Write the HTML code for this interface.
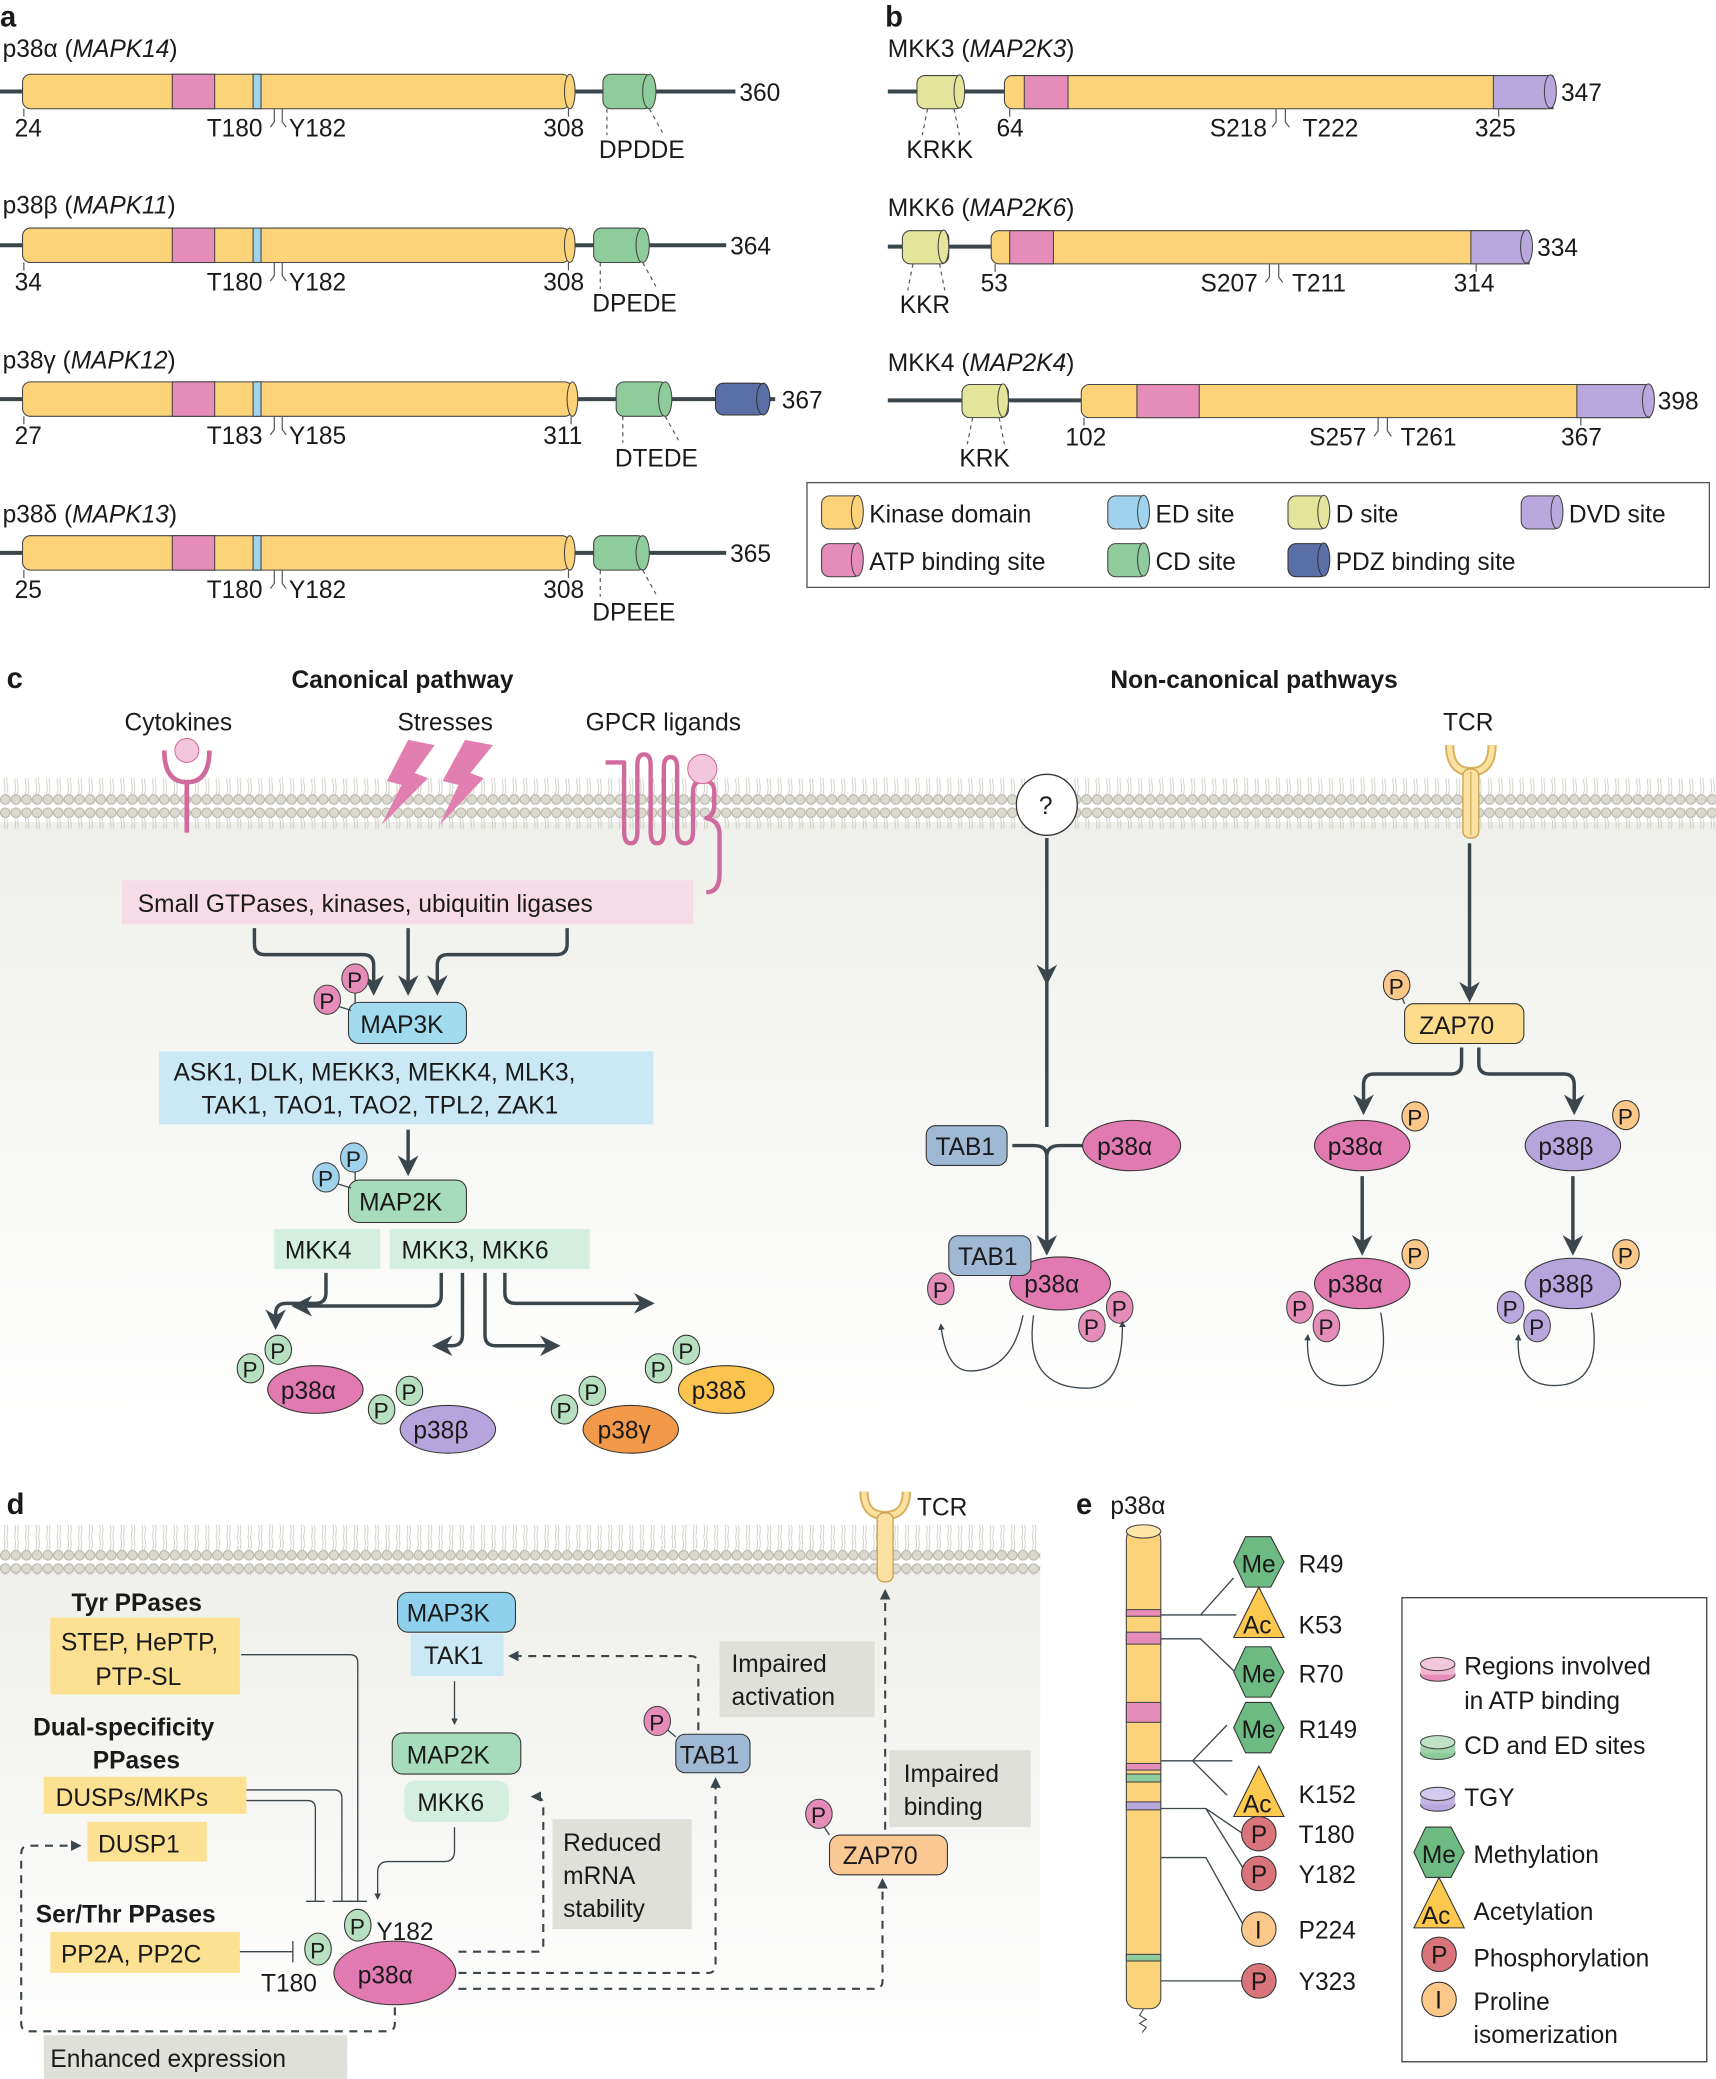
<!DOCTYPE html>
<html><head><meta charset="utf-8"><style>
html,body{margin:0;padding:0;background:#fff}
svg{display:block}
text{font-family:"Liberation Sans",sans-serif;font-size:18.5px;fill:#1a1a1a}
.b{font-weight:bold}
.L{font-size:22px;font-weight:bold}
.s{font-size:17px}
.ln{stroke:#3b464c;stroke-width:3;fill:none}
.th{stroke:#3b464c;stroke-width:1;fill:none}
.ar{stroke:#3b464c;stroke-width:2.6;fill:none}
.ds{stroke:#3b464c;stroke-width:1.6;fill:none;stroke-dasharray:6 5}
.k{fill:#fdd37a;stroke:#444;stroke-width:0.8}
.pk{fill:#e68cb8;stroke:#444;stroke-width:0.8}
.bl{fill:#9fd2ec;stroke:#444;stroke-width:0.8}
.gr{fill:#8fcc9c;stroke:#444;stroke-width:0.8}
.yg{fill:#e3e69a;stroke:#444;stroke-width:0.8}
.pu{fill:#b9a8de;stroke:#444;stroke-width:0.8}
.nv{fill:#5a6fa5;stroke:#333;stroke-width:0.8}
.tk{stroke:#555;stroke-width:0.9;fill:none}
.tkd{stroke:#555;stroke-width:0.9;fill:none;stroke-dasharray:3 3}
</style></head><body>
<svg width="1716" height="2079" viewBox="0 0 1295 1568" preserveAspectRatio="none" xmlns="http://www.w3.org/2000/svg">
<defs>
<marker id="ah" viewBox="0 0 10 10" refX="8" refY="5" markerWidth="5" markerHeight="5" orient="auto"><path d="M0,0L10,5L0,10z" fill="#3b464c"/></marker>
<marker id="ah2" viewBox="0 0 10 10" refX="8" refY="5" markerWidth="6" markerHeight="6" orient="auto"><path d="M0,0L10,5L0,10L3,5z" fill="#3b464c"/></marker>
<pattern id="mem" x="0" y="0" width="8" height="38" patternUnits="userSpaceOnUse">
<circle cx="4" cy="5" r="3.6" fill="#dcdad0" stroke="#b8b6aa" stroke-width="0.8"/>
<circle cx="4" cy="33" r="3.6" fill="#dcdad0" stroke="#b8b6aa" stroke-width="0.8"/>
<path d="M3,9 q1.5,5 0,10 M5,9 q1.5,5 0,10 M3,19 q1.5,5 0,10 M5,19 q1.5,5 0,10" stroke="#c9c7bb" stroke-width="0.6" fill="none"/>
</pattern>
<linearGradient id="bgc" x1="0" y1="0" x2="0" y2="1"><stop offset="0" stop-color="#efefeb"/><stop offset="1" stop-color="#ffffff"/></linearGradient>
</defs>

<!-- ============ PANEL A ============ -->
<text x="0" y="20" class="L">a</text>
<text x="2" y="43">p38α (<tspan font-style="italic">MAPK14</tspan>)</text>
<line x1="0" y1="69" x2="555" y2="69" class="ln"/>
<rect x="17" y="56" width="413" height="26" rx="6" class="k"/>
<rect x="130" y="56" width="32" height="26" class="pk"/>
<rect x="191" y="56" width="6" height="26" class="bl"/>
<ellipse cx="430" cy="69" rx="4" ry="13" class="k"/>
<rect x="455" y="56" width="37" height="26" rx="6" class="gr"/><ellipse cx="490" cy="69" rx="5" ry="13" class="gr"/>
<text x="558" y="76">360</text>
<line x1="18" y1="82" x2="18" y2="88" class="tk"/><text x="11" y="103">24</text>
<path d="M207,82 v10 l-3,4 M213,82 v10 l3,4" class="tk"/>
<text x="156" y="103">T180</text><text x="218" y="103">Y182</text>
<line x1="429" y1="82" x2="429" y2="88" class="tk"/><text x="410" y="103">308</text>
<path d="M458,82 v20 M490,82 l10,18" class="tkd"/><text x="452" y="119">DPDDE</text>

<text x="2" y="161">p38β (<tspan font-style="italic">MAPK11</tspan>)</text>
<line x1="0" y1="185" x2="548" y2="185" class="ln"/>
<rect x="17" y="172" width="413" height="26" rx="6" class="k"/>
<rect x="130" y="172" width="32" height="26" class="pk"/>
<rect x="191" y="172" width="6" height="26" class="bl"/>
<ellipse cx="430" cy="185" rx="4" ry="13" class="k"/>
<rect x="448" y="172" width="39" height="26" rx="6" class="gr"/><ellipse cx="485" cy="185" rx="5" ry="13" class="gr"/>
<text x="551" y="192">364</text>
<line x1="18" y1="198" x2="18" y2="204" class="tk"/><text x="11" y="219">34</text>
<path d="M207,198 v10 l-3,4 M213,198 v10 l3,4" class="tk"/>
<text x="156" y="219">T180</text><text x="218" y="219">Y182</text>
<line x1="429" y1="198" x2="429" y2="204" class="tk"/><text x="410" y="219">308</text>
<path d="M453,198 v20 M485,198 l10,18" class="tkd"/><text x="447" y="235">DPEDE</text>

<text x="2" y="278">p38γ (<tspan font-style="italic">MAPK12</tspan>)</text>
<line x1="0" y1="301" x2="585" y2="301" class="ln"/>
<rect x="17" y="288" width="415" height="26" rx="6" class="k"/>
<rect x="130" y="288" width="32" height="26" class="pk"/>
<rect x="191" y="288" width="6" height="26" class="bl"/>
<ellipse cx="432" cy="301" rx="4" ry="13" class="k"/>
<rect x="465" y="288" width="39" height="26" rx="6" class="gr"/><ellipse cx="502" cy="301" rx="5" ry="13" class="gr"/>
<rect x="540" y="289" width="38" height="24" rx="6" class="nv"/><ellipse cx="576" cy="301" rx="5" ry="12" class="nv"/>
<text x="590" y="308">367</text>
<line x1="18" y1="314" x2="18" y2="320" class="tk"/><text x="11" y="335">27</text>
<path d="M207,314 v10 l-3,4 M213,314 v10 l3,4" class="tk"/>
<text x="156" y="335">T183</text><text x="218" y="335">Y185</text>
<line x1="431" y1="314" x2="431" y2="320" class="tk"/><text x="410" y="335">311</text>
<path d="M470,314 v20 M502,314 l10,18" class="tkd"/><text x="464" y="352">DTEDE</text>

<text x="2" y="394">p38δ (<tspan font-style="italic">MAPK13</tspan>)</text>
<line x1="0" y1="417" x2="548" y2="417" class="ln"/>
<rect x="17" y="404" width="413" height="26" rx="6" class="k"/>
<rect x="130" y="404" width="32" height="26" class="pk"/>
<rect x="191" y="404" width="6" height="26" class="bl"/>
<ellipse cx="430" cy="417" rx="4" ry="13" class="k"/>
<rect x="448" y="404" width="39" height="26" rx="6" class="gr"/><ellipse cx="485" cy="417" rx="5" ry="13" class="gr"/>
<text x="551" y="424">365</text>
<line x1="18" y1="430" x2="18" y2="436" class="tk"/><text x="11" y="451">25</text>
<path d="M207,430 v10 l-3,4 M213,430 v10 l3,4" class="tk"/>
<text x="156" y="451">T180</text><text x="218" y="451">Y182</text>
<line x1="429" y1="430" x2="429" y2="436" class="tk"/><text x="410" y="451">308</text>
<path d="M453,430 v20 M485,430 l10,18" class="tkd"/><text x="447" y="468">DPEEE</text>

<!-- ============ PANEL B ============ -->
<text x="668" y="20" class="L">b</text>
<text x="670" y="43">MKK3 (<tspan font-style="italic">MAP2K3</tspan>)</text>
<line x1="670" y1="69" x2="760" y2="69" class="ln"/>
<rect x="692" y="57" width="35" height="25" rx="6" class="yg"/><ellipse cx="724" cy="69" rx="4" ry="12.5" class="yg"/>
<rect x="758" y="57" width="414" height="25" rx="6" class="k"/>
<rect x="773" y="57" width="33" height="25" class="pk"/>
<rect x="1127" y="57" width="45" height="25" class="pu"/><ellipse cx="1170" cy="69" rx="4.5" ry="12.5" class="pu"/>
<text x="1178" y="76">347</text>
<path d="M700,82 l-4,20 M720,82 l4,20" class="tkd"/><text x="684" y="119">KRKK</text>
<line x1="762" y1="82" x2="762" y2="88" class="tk"/><text x="752" y="103">64</text>
<path d="M963,82 v10 l-3,4 M970,82 v10 l3,4" class="tk"/><text x="913" y="103">S218</text><text x="983" y="103">T222</text>
<line x1="1131" y1="82" x2="1131" y2="88" class="tk"/><text x="1113" y="103">325</text>

<text x="670" y="163">MKK6 (<tspan font-style="italic">MAP2K6</tspan>)</text>
<line x1="670" y1="186" x2="750" y2="186" class="ln"/>
<rect x="681" y="174" width="35" height="25" rx="6" class="yg"/><ellipse cx="712" cy="186" rx="4" ry="12.5" class="yg"/>
<rect x="748" y="174" width="406" height="25" rx="6" class="k"/>
<rect x="762" y="174" width="33" height="25" class="pk"/>
<rect x="1110" y="174" width="44" height="25" class="pu"/><ellipse cx="1152" cy="186" rx="4.5" ry="12.5" class="pu"/>
<text x="1160" y="193">334</text>
<path d="M689,199 l-4,20 M709,199 l4,20" class="tkd"/><text x="679" y="236">KKR</text>
<line x1="751" y1="199" x2="751" y2="205" class="tk"/><text x="740" y="220">53</text>
<path d="M958,199 v10 l-3,4 M965,199 v10 l3,4" class="tk"/><text x="906" y="220">S207</text><text x="975" y="220">T211</text>
<line x1="1114" y1="199" x2="1114" y2="205" class="tk"/><text x="1097" y="220">314</text>

<text x="670" y="280">MKK4 (<tspan font-style="italic">MAP2K4</tspan>)</text>
<line x1="670" y1="302" x2="818" y2="302" class="ln"/>
<rect x="726" y="290" width="35" height="25" rx="6" class="yg"/><ellipse cx="757" cy="302" rx="4" ry="12.5" class="yg"/>
<rect x="816" y="290" width="430" height="25" rx="6" class="k"/>
<rect x="858" y="290" width="47" height="25" class="pk"/>
<rect x="1190" y="290" width="55" height="25" class="pu"/><ellipse cx="1244" cy="302" rx="4.5" ry="12.5" class="pu"/>
<text x="1251" y="309">398</text>
<path d="M734,315 l-4,20 M754,315 l4,20" class="tkd"/><text x="724" y="352">KRK</text>
<line x1="818" y1="315" x2="818" y2="321" class="tk"/><text x="804" y="336">102</text>
<path d="M1040,315 v10 l-3,4 M1047,315 v10 l3,4" class="tk"/><text x="988" y="336">S257</text><text x="1057" y="336">T261</text>
<line x1="1193" y1="315" x2="1193" y2="321" class="tk"/><text x="1178" y="336">367</text>

<rect x="609" y="364" width="681" height="79" fill="#fff" stroke="#555" stroke-width="1"/>
<rect x="620" y="374" width="30" height="25" rx="6" class="k"/><ellipse cx="647" cy="386" rx="4.5" ry="12.5" class="k"/><text x="656" y="394">Kinase domain</text>
<rect x="836" y="374" width="30" height="25" rx="6" class="bl"/><ellipse cx="863" cy="386" rx="4.5" ry="12.5" class="bl"/><text x="872" y="394">ED site</text>
<rect x="972" y="374" width="30" height="25" rx="6" class="yg"/><ellipse cx="999" cy="386" rx="4.5" ry="12.5" class="yg"/><text x="1008" y="394">D site</text>
<rect x="1148" y="374" width="30" height="25" rx="6" class="pu"/><ellipse cx="1175" cy="386" rx="4.5" ry="12.5" class="pu"/><text x="1184" y="394">DVD site</text>
<rect x="620" y="410" width="30" height="25" rx="6" class="pk"/><ellipse cx="647" cy="422" rx="4.5" ry="12.5" class="pk"/><text x="656" y="430">ATP binding site</text>
<rect x="836" y="410" width="30" height="25" rx="6" class="gr"/><ellipse cx="863" cy="422" rx="4.5" ry="12.5" class="gr"/><text x="872" y="430">CD site</text>
<rect x="972" y="410" width="30" height="25" rx="6" class="nv"/><ellipse cx="999" cy="422" rx="4.5" ry="12.5" class="nv"/><text x="1008" y="430">PDZ binding site</text>

<!-- ============ PANEL C ============ -->
<rect x="0" y="620" width="1295" height="480" fill="url(#bgc)"/>
<rect x="0" y="587" width="1295" height="38" fill="url(#mem)"/>
<text x="5" y="519" class="L">c</text>
<text x="220" y="519" class="b" font-size="20">Canonical pathway</text>
<text x="838" y="519" class="b" font-size="20">Non-canonical pathways</text>
<text x="94" y="551">Cytokines</text>
<text x="300" y="551">Stresses</text>
<text x="442" y="551">GPCR ligands</text>
<path d="M124,566 q0,24 17,24 q17,0 17,-24" stroke="#d16a9c" stroke-width="3.5" fill="none"/>
<line x1="141" y1="590" x2="141" y2="628" stroke="#d16a9c" stroke-width="3.5"/>
<circle cx="141" cy="566" r="9" fill="#f3c6dc" stroke="#d16a9c" stroke-width="0.8"/>
<path d="M308,558 L328,562 L313,583 L323,587 L288,622 L303,592 L292,589 Z" fill="#e17fb0"/>
<path d="M351,558 L372,562 L355,583 L365,587 L332,622 L346,592 L334,589 Z" fill="#e17fb0"/>
<path d="M457,575 h14 v52 q0,9 5,9 q5,0 5,-9 v-50 q0,-8 5,-8 q5,0 5,8 v50 q0,9 5,9 q5,0 5,-9 v-48 q0,-8 5,-8 q5,0 5,8 v48 q0,9 6,9 q6,0 6,-9 v-30 q0,-8 8,-8 q8,0 8,8 v10 q0,8 -6,10 q10,2 10,12 v30 q0,14 -10,14" stroke="#d16a9c" stroke-width="3.3" fill="none" stroke-linejoin="round"/>
<circle cx="530" cy="580" r="11" fill="#f3c6dc" stroke="#d16a9c" stroke-width="0.8"/>

<rect x="92" y="664" width="431" height="33" fill="#f7dbe6"/>
<text x="104" y="688">Small GTPases, kinases, ubiquitin ligases</text>
<path d="M192,700 v12 q0,8 8,8 h74 q8,0 8,8 v20" class="ar" marker-end="url(#ah2)"/>
<path d="M308,700 v48" class="ar" marker-end="url(#ah2)"/>
<path d="M428,700 v12 q0,8 -8,8 h-82 q-8,0 -8,8 v20" class="ar" marker-end="url(#ah2)"/>
<rect x="263" y="756" width="89" height="31" rx="8" fill="#a2daee" stroke="#333" stroke-width="0.8"/>
<text x="272" y="779">MAP3K</text>
<line x1="252" y1="758" x2="265" y2="762" class="th"/><line x1="268" y1="748" x2="268" y2="757" class="th"/>
<ellipse cx="247" cy="754" rx="10" ry="11" class="pk"/><text x="241" y="761" class="s">P</text>
<ellipse cx="268" cy="738" rx="10" ry="11" class="pk"/><text x="262" y="745" class="s">P</text>
<rect x="120" y="793" width="373" height="55" fill="#cbe9f5"/>
<text x="131" y="815">ASK1, DLK, MEKK3, MEKK4, MLK3,</text>
<text x="152" y="840">TAK1, TAO1, TAO2, TPL2, ZAK1</text>
<path d="M308,852 v32" class="ar" marker-end="url(#ah2)"/>
<rect x="263" y="890" width="89" height="32" rx="8" fill="#a6dcbc" stroke="#333" stroke-width="0.8"/>
<text x="271" y="913">MAP2K</text>
<line x1="252" y1="892" x2="265" y2="896" class="th"/><line x1="268" y1="882" x2="268" y2="891" class="th"/>
<ellipse cx="246" cy="888" rx="10" ry="11" class="bl"/><text x="240" y="895" class="s">P</text>
<ellipse cx="267" cy="873" rx="10" ry="11" class="bl"/><text x="261" y="880" class="s">P</text>
<rect x="207" y="927" width="80" height="30" fill="#d4efe0"/><text x="215" y="949">MKK4</text>
<rect x="294" y="927" width="151" height="30" fill="#d4efe0"/><text x="303" y="949">MKK3, MKK6</text>
<path d="M246,960 v15 q0,8 -8,8 h-22 q-8,0 -8,8 v9" class="ar" marker-end="url(#ah2)"/>
<path d="M333,960 v17 q0,8 -8,8 h-102" class="ar" marker-end="url(#ah2)"/>
<path d="M349,960 v47 q0,8 -8,8 h-12" class="ar" marker-end="url(#ah2)"/>
<path d="M366,960 v47 q0,8 8,8 h46" class="ar" marker-end="url(#ah2)"/>
<path d="M381,960 v15 q0,8 8,8 h102" class="ar" marker-end="url(#ah2)"/>
<g>
<ellipse cx="238" cy="1048" rx="36" ry="18" fill="#e07ab0" stroke="#333" stroke-width="0.8"/><text x="212" y="1055">p38α</text>
<ellipse cx="189" cy="1032" rx="10" ry="11" fill="#b7e0c0" stroke="#333" stroke-width="0.8"/><text x="183" y="1039" class="s">P</text>
<ellipse cx="210" cy="1018" rx="10" ry="11" fill="#b7e0c0" stroke="#333" stroke-width="0.8"/><text x="204" y="1025" class="s">P</text>
<ellipse cx="338" cy="1078" rx="36" ry="18" fill="#b6a4dc" stroke="#333" stroke-width="0.8"/><text x="312" y="1085">p38β</text>
<ellipse cx="288" cy="1063" rx="10" ry="11" fill="#b7e0c0" stroke="#333" stroke-width="0.8"/><text x="282" y="1070" class="s">P</text>
<ellipse cx="309" cy="1049" rx="10" ry="11" fill="#b7e0c0" stroke="#333" stroke-width="0.8"/><text x="303" y="1056" class="s">P</text>
<ellipse cx="476" cy="1078" rx="36" ry="18" fill="#f29a4a" stroke="#333" stroke-width="0.8"/><text x="451" y="1085">p38γ</text>
<ellipse cx="426" cy="1063" rx="10" ry="11" fill="#b7e0c0" stroke="#333" stroke-width="0.8"/><text x="420" y="1070" class="s">P</text>
<ellipse cx="447" cy="1049" rx="10" ry="11" fill="#b7e0c0" stroke="#333" stroke-width="0.8"/><text x="441" y="1056" class="s">P</text>
<ellipse cx="548" cy="1048" rx="36" ry="18" fill="#fbc44f" stroke="#333" stroke-width="0.8"/><text x="522" y="1055">p38δ</text>
<ellipse cx="497" cy="1032" rx="10" ry="11" fill="#b7e0c0" stroke="#333" stroke-width="0.8"/><text x="491" y="1039" class="s">P</text>
<ellipse cx="518" cy="1018" rx="10" ry="11" fill="#b7e0c0" stroke="#333" stroke-width="0.8"/><text x="512" y="1025" class="s">P</text>
</g>

<circle cx="790" cy="607" r="23" fill="#fff" stroke="#333" stroke-width="1"/><text x="784" y="614">?</text>
<path d="M790,632 v108" class="ar" marker-end="url(#ah2)"/>
<path d="M790,740 v110" class="ar"/>
<path d="M764,864 h16 q10,0 10,8 q0,-8 10,-8 h18" class="ar"/>
<path d="M790,872 v72" class="ar" marker-end="url(#ah2)"/>
<rect x="699" y="849" width="61" height="30" rx="7" fill="#9fb8d4" stroke="#333" stroke-width="0.8"/><text x="706" y="871">TAB1</text>
<ellipse cx="854" cy="864" rx="37" ry="19" fill="#e07ab0" stroke="#333" stroke-width="0.8"/><text x="828" y="871">p38α</text>
<ellipse cx="800" cy="968" rx="38" ry="20" fill="#e07ab0" stroke="#333" stroke-width="0.8"/><text x="773" y="975">p38α</text>
<rect x="716" y="932" width="62" height="30" rx="7" fill="#9fb8d4" stroke="#333" stroke-width="0.8"/><text x="723" y="954">TAB1</text>
<line x1="716" y1="962" x2="712" y2="966" class="th"/>
<ellipse cx="710" cy="972" rx="10" ry="12" class="pk"/><text x="704" y="979" class="s">P</text>
<ellipse cx="824" cy="1000" rx="10" ry="12" class="pk"/><text x="818" y="1007" class="s">P</text>
<ellipse cx="845" cy="986" rx="10" ry="12" class="pk"/><text x="839" y="993" class="s">P</text>
<path d="M772,992 q-8,42 -40,42 q-18,0 -22,-35" class="th" stroke-width="1.5" marker-end="url(#ah)"/>
<path d="M780,992 q-8,55 40,55 q28,0 27,-50" class="th" stroke-width="1.5" marker-end="url(#ah)"/>

<path d="M1094,562 q0,20 16,20 q16,0 16,-20" stroke="#d8b060" stroke-width="7" fill="none"/>
<path d="M1094,562 q0,20 16,20 q16,0 16,-20" stroke="#fde1a0" stroke-width="4" fill="none"/>
<rect x="1104" y="580" width="12" height="52" rx="5" fill="#fde1a0" stroke="#c9a050" stroke-width="1"/>
<line x1="1110" y1="582" x2="1110" y2="630" stroke="#c9a050" stroke-width="0.8"/>
<text x="1089" y="551">TCR</text>
<path d="M1109,636 v117" class="ar" marker-end="url(#ah2)"/>
<rect x="1060" y="757" width="90" height="30" rx="7" fill="#fddc8c" stroke="#333" stroke-width="0.8"/><text x="1071" y="780">ZAP70</text>
<line x1="1060" y1="757" x2="1058" y2="752" class="th"/>
<ellipse cx="1054" cy="743" rx="10" ry="11" fill="#fbc88a" stroke="#333" stroke-width="0.8"/><text x="1048" y="750" class="s">P</text>
<path d="M1103,790 v12 q0,8 -8,8 h-58 q-8,0 -8,8 v20" class="ar" marker-end="url(#ah2)"/>
<path d="M1116,790 v12 q0,8 8,8 h56 q8,0 8,8 v20" class="ar" marker-end="url(#ah2)"/>
<ellipse cx="1028" cy="864" rx="36" ry="19" fill="#e07ab0" stroke="#333" stroke-width="0.8"/><text x="1002" y="871">p38α</text>
<ellipse cx="1068" cy="842" rx="10" ry="11" fill="#fbc88a" stroke="#333" stroke-width="0.8"/><text x="1062" y="849" class="s">P</text>
<ellipse cx="1187" cy="864" rx="36" ry="19" fill="#b6a4dc" stroke="#333" stroke-width="0.8"/><text x="1161" y="871">p38β</text>
<ellipse cx="1227" cy="841" rx="10" ry="11" fill="#fbc88a" stroke="#333" stroke-width="0.8"/><text x="1221" y="848" class="s">P</text>
<path d="M1028,887 v57" class="ar" marker-end="url(#ah2)"/>
<path d="M1187,887 v57" class="ar" marker-end="url(#ah2)"/>
<ellipse cx="1028" cy="968" rx="36" ry="19" fill="#e07ab0" stroke="#333" stroke-width="0.8"/><text x="1002" y="975">p38α</text>
<ellipse cx="1068" cy="946" rx="10" ry="11" fill="#fbc88a" stroke="#333" stroke-width="0.8"/><text x="1062" y="953" class="s">P</text>
<ellipse cx="981" cy="986" rx="10" ry="12" class="pk"/><text x="975" y="993" class="s">P</text>
<ellipse cx="1001" cy="1000" rx="10" ry="12" class="pk"/><text x="995" y="1007" class="s">P</text>
<path d="M1042,990 q10,55 -28,55 q-30,0 -27,-38" class="th" stroke-width="1.5" marker-end="url(#ah)"/>
<ellipse cx="1187" cy="968" rx="36" ry="19" fill="#b6a4dc" stroke="#333" stroke-width="0.8"/><text x="1161" y="975">p38β</text>
<ellipse cx="1227" cy="946" rx="10" ry="11" fill="#fbc88a" stroke="#333" stroke-width="0.8"/><text x="1221" y="953" class="s">P</text>
<ellipse cx="1140" cy="986" rx="10" ry="12" class="pu"/><text x="1134" y="993" class="s">P</text>
<ellipse cx="1160" cy="1000" rx="10" ry="12" class="pu"/><text x="1154" y="1007" class="s">P</text>
<path d="M1201,990 q10,55 -28,55 q-30,0 -27,-38" class="th" stroke-width="1.5" marker-end="url(#ah)"/>

<!-- ============ PANEL D ============ -->
<rect x="0" y="1185" width="785" height="383" fill="url(#bgc)"/>
<rect x="0" y="1150" width="785" height="38" fill="url(#mem)"/>
<text x="5" y="1142" class="L">d</text>
<path d="M652,1125 q0,18 16,18 q16,0 16,-18" stroke="#d8b060" stroke-width="7" fill="none"/>
<path d="M652,1125 q0,18 16,18 q16,0 16,-18" stroke="#fde1a0" stroke-width="4" fill="none"/>
<rect x="662" y="1141" width="12" height="52" rx="5" fill="#fde1a0" stroke="#c9a050" stroke-width="1"/>
<text x="692" y="1143">TCR</text>
<text x="54" y="1215" class="b">Tyr PPases</text>
<rect x="38" y="1220" width="143" height="58" fill="#fde192"/>
<text x="46" y="1245">STEP, HePTP,</text><text x="72" y="1271">PTP-SL</text>
<text x="25" y="1309" class="b">Dual-specificity</text>
<text x="70" y="1334" class="b">PPases</text>
<rect x="33" y="1340" width="153" height="28" fill="#fde192"/><text x="42" y="1362">DUSPs/MKPs</text>
<rect x="66" y="1374" width="90" height="30" fill="#fde192"/><text x="74" y="1397">DUSP1</text>
<text x="27" y="1450" class="b">Ser/Thr PPases</text>
<rect x="38" y="1457" width="143" height="31" fill="#fde192"/><text x="46" y="1480">PP2A, PP2C</text>
<path d="M182,1248 h82 q6,0 6,6 v180 M263,1434 h14" class="th" stroke-width="1.8"/>
<path d="M186,1350 h66 q6,0 6,6 v78 M251,1434 h14" class="th" stroke-width="1.8"/>
<path d="M186,1358 h46 q6,0 6,6 v70 M231,1434 h14" class="th" stroke-width="1.8"/>
<path d="M181,1472 h40 M221,1464 v16" class="th" stroke-width="1.8"/>
<rect x="300" y="1201" width="89" height="30" rx="8" fill="#8fd0ec" stroke="#333" stroke-width="0.8"/><text x="307" y="1223">MAP3K</text>
<rect x="310" y="1232" width="70" height="32" fill="#cbe9f5"/><text x="320" y="1255">TAK1</text>
<path d="M343,1268 v32" class="th" stroke-width="1.4" marker-end="url(#ah)"/>
<rect x="296" y="1307" width="97" height="31" rx="8" fill="#a6dcbc" stroke="#333" stroke-width="0.8"/><text x="307" y="1330">MAP2K</text>
<rect x="305" y="1343" width="79" height="31" rx="8" fill="#d4efe0"/><text x="315" y="1366">MKK6</text>
<path d="M343,1378 v18 q0,8 -8,8 h-42 q-8,0 -8,8 v20" class="th" stroke-width="1.8" marker-end="url(#ah)"/>
<ellipse cx="298" cy="1488" rx="46" ry="24" fill="#e07ab0" stroke="#333" stroke-width="0.8"/><text x="270" y="1496" font-size="21">p38α</text>
<ellipse cx="240" cy="1470" rx="10" ry="12" fill="#b7e0c0" stroke="#333" stroke-width="0.8"/><text x="234" y="1477" class="s">P</text>
<ellipse cx="270" cy="1452" rx="10" ry="12" fill="#b7e0c0" stroke="#333" stroke-width="0.8"/><text x="264" y="1459" class="s">P</text>
<text x="284" y="1463">Y182</text><text x="197" y="1502">T180</text>
<path d="M346,1472 h60 q4,0 4,-6 v-105 q0,-6 -8,-6" class="ds" marker-end="url(#ah)"/>
<path d="M346,1488 h188 q6,0 6,-6 v-140" class="ds" marker-end="url(#ah)"/>
<path d="M346,1500 h314 q6,0 6,-6 v-76" class="ds" marker-end="url(#ah)"/>
<path d="M527,1305 v-50 q0,-6 -6,-6 h-136" class="ds" marker-end="url(#ah)"/>
<path d="M668,1380 v-180" class="ds" marker-end="url(#ah)"/>
<path d="M298,1514 v12 q0,6 -6,6 h-270 q-6,0 -6,-6 v-128 q0,-6 6,-6 h38" class="ds" marker-end="url(#ah)"/>
<rect x="510" y="1308" width="56" height="29" rx="7" fill="#9fb8d4" stroke="#333" stroke-width="0.8"/><text x="513" y="1330">TAB1</text>
<line x1="510" y1="1310" x2="503" y2="1304" class="th"/>
<ellipse cx="496" cy="1298" rx="10" ry="11" class="pk"/><text x="490" y="1305" class="s">P</text>
<rect x="626" y="1384" width="89" height="30" rx="8" fill="#fac892" stroke="#333" stroke-width="0.8"/><text x="636" y="1406">ZAP70</text>
<line x1="626" y1="1384" x2="622" y2="1378" class="th"/>
<ellipse cx="618" cy="1368" rx="10" ry="11" class="pk"/><text x="612" y="1375" class="s">P</text>
<rect x="543" y="1238" width="117" height="57" fill="#e0e0da"/><text x="552" y="1261">Impaired</text><text x="552" y="1286">activation</text>
<rect x="671" y="1320" width="107" height="58" fill="#e0e0da"/><text x="682" y="1344">Impaired</text><text x="682" y="1369">binding</text>
<rect x="417" y="1372" width="105" height="83" fill="#e0e0da"/><text x="425" y="1396">Reduced</text><text x="425" y="1421">mRNA</text><text x="425" y="1446">stability</text>
<rect x="33" y="1535" width="229" height="33" fill="#e0e0da"/><text x="38" y="1559">Enhanced expression</text>

<!-- ============ PANEL E ============ -->
<text x="812" y="1142" class="L">e</text>
<text x="838" y="1142">p38α</text>
<rect x="850" y="1153" width="26" height="362" rx="8" fill="#fdd37a" stroke="#444" stroke-width="0.8"/>
<ellipse cx="863" cy="1155" rx="13" ry="5" fill="#fde6a8" stroke="#444" stroke-width="0.8"/>
<path d="M863,1515 l-3,5 l5,3 l-5,3 l5,3 l-3,4" stroke="#444" stroke-width="0.8" fill="none"/>
<rect x="850" y="1214" width="26" height="5" class="pk"/>
<rect x="850" y="1231" width="26" height="9" class="pk"/>
<rect x="850" y="1284" width="26" height="15" class="pk"/>
<rect x="850" y="1330" width="26" height="5" class="pk"/>
<rect x="850" y="1338" width="26" height="6" class="gr"/>
<rect x="850" y="1359" width="26" height="6" class="pu"/>
<rect x="850" y="1474" width="26" height="5" class="gr"/>
<g class="th">
<path d="M876,1218 h57 M906,1218 l25,-28"/>
<path d="M876,1236 h30 l25,24"/>
<path d="M876,1328 h54 M900,1328 l26,-27 M900,1328 l26,26"/>
<path d="M876,1364 h34 l28,19 M910,1364 l30,48"/>
<path d="M876,1401 h34 l29,52"/>
<path d="M876,1494 h62"/>
</g>
<g stroke="#333" stroke-width="0.8">
<polygon points="940,1159 959,1159 969,1178 959,1197 940,1197 931,1178" fill="#6dbb82"/>
<polygon points="950,1197 969,1235 931,1235" fill="#fcc84e"/>
<polygon points="940,1242 959,1242 969,1261 959,1280 940,1280 931,1261" fill="#6dbb82"/>
<polygon points="940,1284 959,1284 969,1303 959,1322 940,1322 931,1303" fill="#6dbb82"/>
<polygon points="950,1332 969,1370 931,1370" fill="#fcc84e"/>
<circle cx="950" cy="1383" r="13" fill="#d8747a"/>
<circle cx="950" cy="1413" r="13" fill="#d8747a"/>
<circle cx="950" cy="1455" r="13" fill="#fbc88a"/>
<circle cx="950" cy="1494" r="13" fill="#d8747a"/>
</g>
<text x="937" y="1186">Me</text><text x="980" y="1186">R49</text>
<text x="938" y="1232">Ac</text><text x="980" y="1232">K53</text>
<text x="937" y="1269">Me</text><text x="980" y="1269">R70</text>
<text x="937" y="1311">Me</text><text x="980" y="1311">R149</text>
<text x="938" y="1367">Ac</text><text x="980" y="1360">K152</text>
<text x="944" y="1390">P</text><text x="980" y="1390">T180</text>
<text x="944" y="1420">P</text><text x="980" y="1420">Y182</text>
<text x="947" y="1462">I</text><text x="980" y="1462">P224</text>
<text x="944" y="1501">P</text><text x="980" y="1501">Y323</text>

<rect x="1058" y="1205" width="230" height="350" fill="#fff" stroke="#444" stroke-width="1"/>
<ellipse cx="1085" cy="1263" rx="13" ry="5" class="pk"/><rect x="1072" y="1255" width="26" height="8" fill="#f0b6d0"/><ellipse cx="1085" cy="1255" rx="13" ry="5" fill="#f4c6dc" stroke="#444" stroke-width="0.8"/>
<text x="1105" y="1263">Regions involved</text><text x="1105" y="1289">in ATP binding</text>
<ellipse cx="1085" cy="1322" rx="13" ry="5" class="gr"/><rect x="1072" y="1314" width="26" height="8" fill="#9fd4aa"/><ellipse cx="1085" cy="1314" rx="13" ry="5" fill="#bfe2c6" stroke="#444" stroke-width="0.8"/>
<text x="1105" y="1323">CD and ED sites</text>
<ellipse cx="1085" cy="1361" rx="13" ry="5" class="pu"/><rect x="1072" y="1353" width="26" height="8" fill="#c2b4e2"/><ellipse cx="1085" cy="1353" rx="13" ry="5" fill="#d4c9ee" stroke="#444" stroke-width="0.8"/>
<text x="1105" y="1362">TGY</text>
<polygon points="1076,1378 1095,1378 1105,1397 1095,1416 1076,1416 1067,1397" fill="#6dbb82" stroke="#333" stroke-width="0.8"/>
<text x="1073" y="1405">Me</text><text x="1112" y="1405">Methylation</text>
<polygon points="1086,1416 1105,1454 1067,1454" fill="#fcc84e" stroke="#333" stroke-width="0.8"/>
<text x="1073" y="1451">Ac</text><text x="1112" y="1448">Acetylation</text>
<circle cx="1086" cy="1474" r="13" fill="#d8747a" stroke="#333" stroke-width="0.8"/><text x="1080" y="1481">P</text>
<text x="1112" y="1483">Phosphorylation</text>
<circle cx="1086" cy="1508" r="13" fill="#fbc88a" stroke="#333" stroke-width="0.8"/><text x="1083" y="1515">I</text>
<text x="1112" y="1516">Proline</text><text x="1112" y="1541">isomerization</text>
</svg>
</body></html>
